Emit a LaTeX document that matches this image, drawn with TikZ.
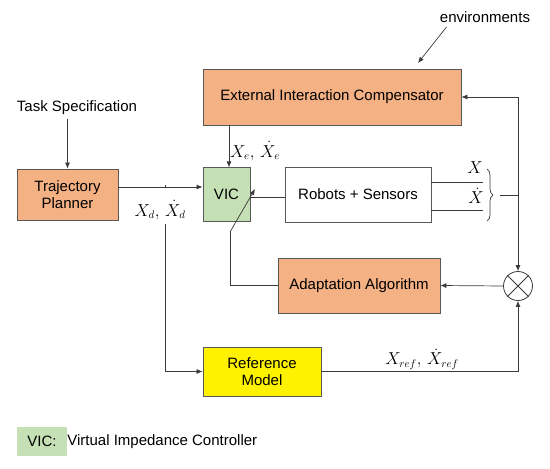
\documentclass[tikz,border=0pt]{standalone}
\usepackage{amsmath}
\usepackage{amssymb}
\usepackage{fontspec}
\setmainfont{Liberation Sans}
\usetikzlibrary{decorations.pathreplacing,arrows.meta}
\definecolor{boxorange}{HTML}{F4B183}
\definecolor{boxgreen}{HTML}{C5E0B4}
\definecolor{linegray}{HTML}{3A3A3A}

\begin{document}
\begin{tikzpicture}[x=1pt,y=-1pt,
  font=\fontsize{15}{17}\selectfont,
  blk/.style={draw=linegray!85,line width=0.8pt,align=center,inner sep=0pt},
  conn/.style={draw=linegray,line width=0.7pt},
  tip/.style={conn,-{Latex[length=6pt,width=5pt]}},
  lbl/.style={inner sep=0pt,font=\fontsize{16}{18}\selectfont}]
\useasboundingbox (0,0) rectangle (550,469);
\node[blk,fill=boxorange,minimum width=258,minimum height=56] (ext) at (332,97) {External Interaction Compensator};
\node[blk,fill=boxorange,minimum width=101,minimum height=51] (traj) at (67.5,194.5) {Trajectory\\Planner};
\node[blk,fill=boxgreen,minimum width=47,minimum height=54] (vic) at (226.5,194.5) {VIC};
\node[blk,fill=white,minimum width=146,minimum height=55] (rob) at (358,194.5) {Robots + Sensors};
\node[blk,fill=boxorange,minimum width=162,minimum height=55] (adapt) at (359,285.5) {Adaptation Algorithm};
\node[blk,fill=yellow,minimum width=118,minimum height=49] (ref) at (262,371.5) {Reference\\Model};
\node[draw=linegray,line width=0.8pt,circle,minimum size=29,inner sep=0pt] (mult) at (518,286) {};
\draw[conn,line width=1pt] (mult.north west) -- (mult.south east) (mult.north east) -- (mult.south west);

\node (task) at (77,108) {Task Specification};
\node (env) at (485,17) {environments};
\node[lbl] (xe) at (255,151) {$X_e,\,\dot{X}_e$};
\node[lbl] (xd) at (160,210) {$X_d,\,\dot{X}_d$};
\node[lbl] (xx) at (475,168) {$X$};
\node[lbl] (xdot) at (476,196) {$\dot{X}$};
\node[lbl] (xref) at (422,359) {$X_{ref},\,\dot{X}_{ref}$};
\coordinate (yout) at (483,182);
\coordinate (ydout) at (483,210);
\coordinate (bend) at (230,232);
\coordinate (gain) at (255,189);
\coordinate (envtip) at (418,63);

\draw[tip] (task.south -| traj.north) -- (traj.north);
\draw[tip] (env.south west) ++(10,1) -- (envtip);
\draw[tip] ([yshift=7.5pt]traj.east) -- ([yshift=7.5pt]vic.west);
\draw[conn] ([yshift=7.5pt]traj.east -| xd.north) ++(5,0) -- ++(0,-2.5);
\draw[tip] ([xshift=5pt,yshift=-4pt]xd.south) |- (ref.west);
\draw[tip] (vic.north |- ext.south) ++(2.5,0) -- ++(0,42);
\draw[conn] ([yshift=-2.5pt]rob.west) -- ([yshift=-2.5pt]vic.east);
\draw[conn] (rob.east |- yout) -- (yout);
\draw[conn] (rob.east |- ydout) -- (ydout);
\draw[conn,decorate,decoration={brace,amplitude=6pt}] (487,169) -- (487,221);
\draw[conn] (500,195) -- (mult.north |- 0,195);
\draw[tip] (mult.north |- ext.east) -- (ext.east);
\draw[tip] (mult.north |- ext.east) -- (mult.north);
\draw[tip] (mult.west) -- (adapt.east);
\draw[conn] (adapt.west) -| (bend);
\draw[tip] (bend) -- (gain);
\draw[tip] (ref.east) -| (mult.south);

\node[fill=boxgreen,minimum width=50,minimum height=29,inner sep=0pt] (leg) at (42,441.5) {VIC:};
\node[anchor=west,inner sep=0pt] (legtext) at (leg.east) {Virtual Impedance Controller};
\end{tikzpicture}
\end{document}
